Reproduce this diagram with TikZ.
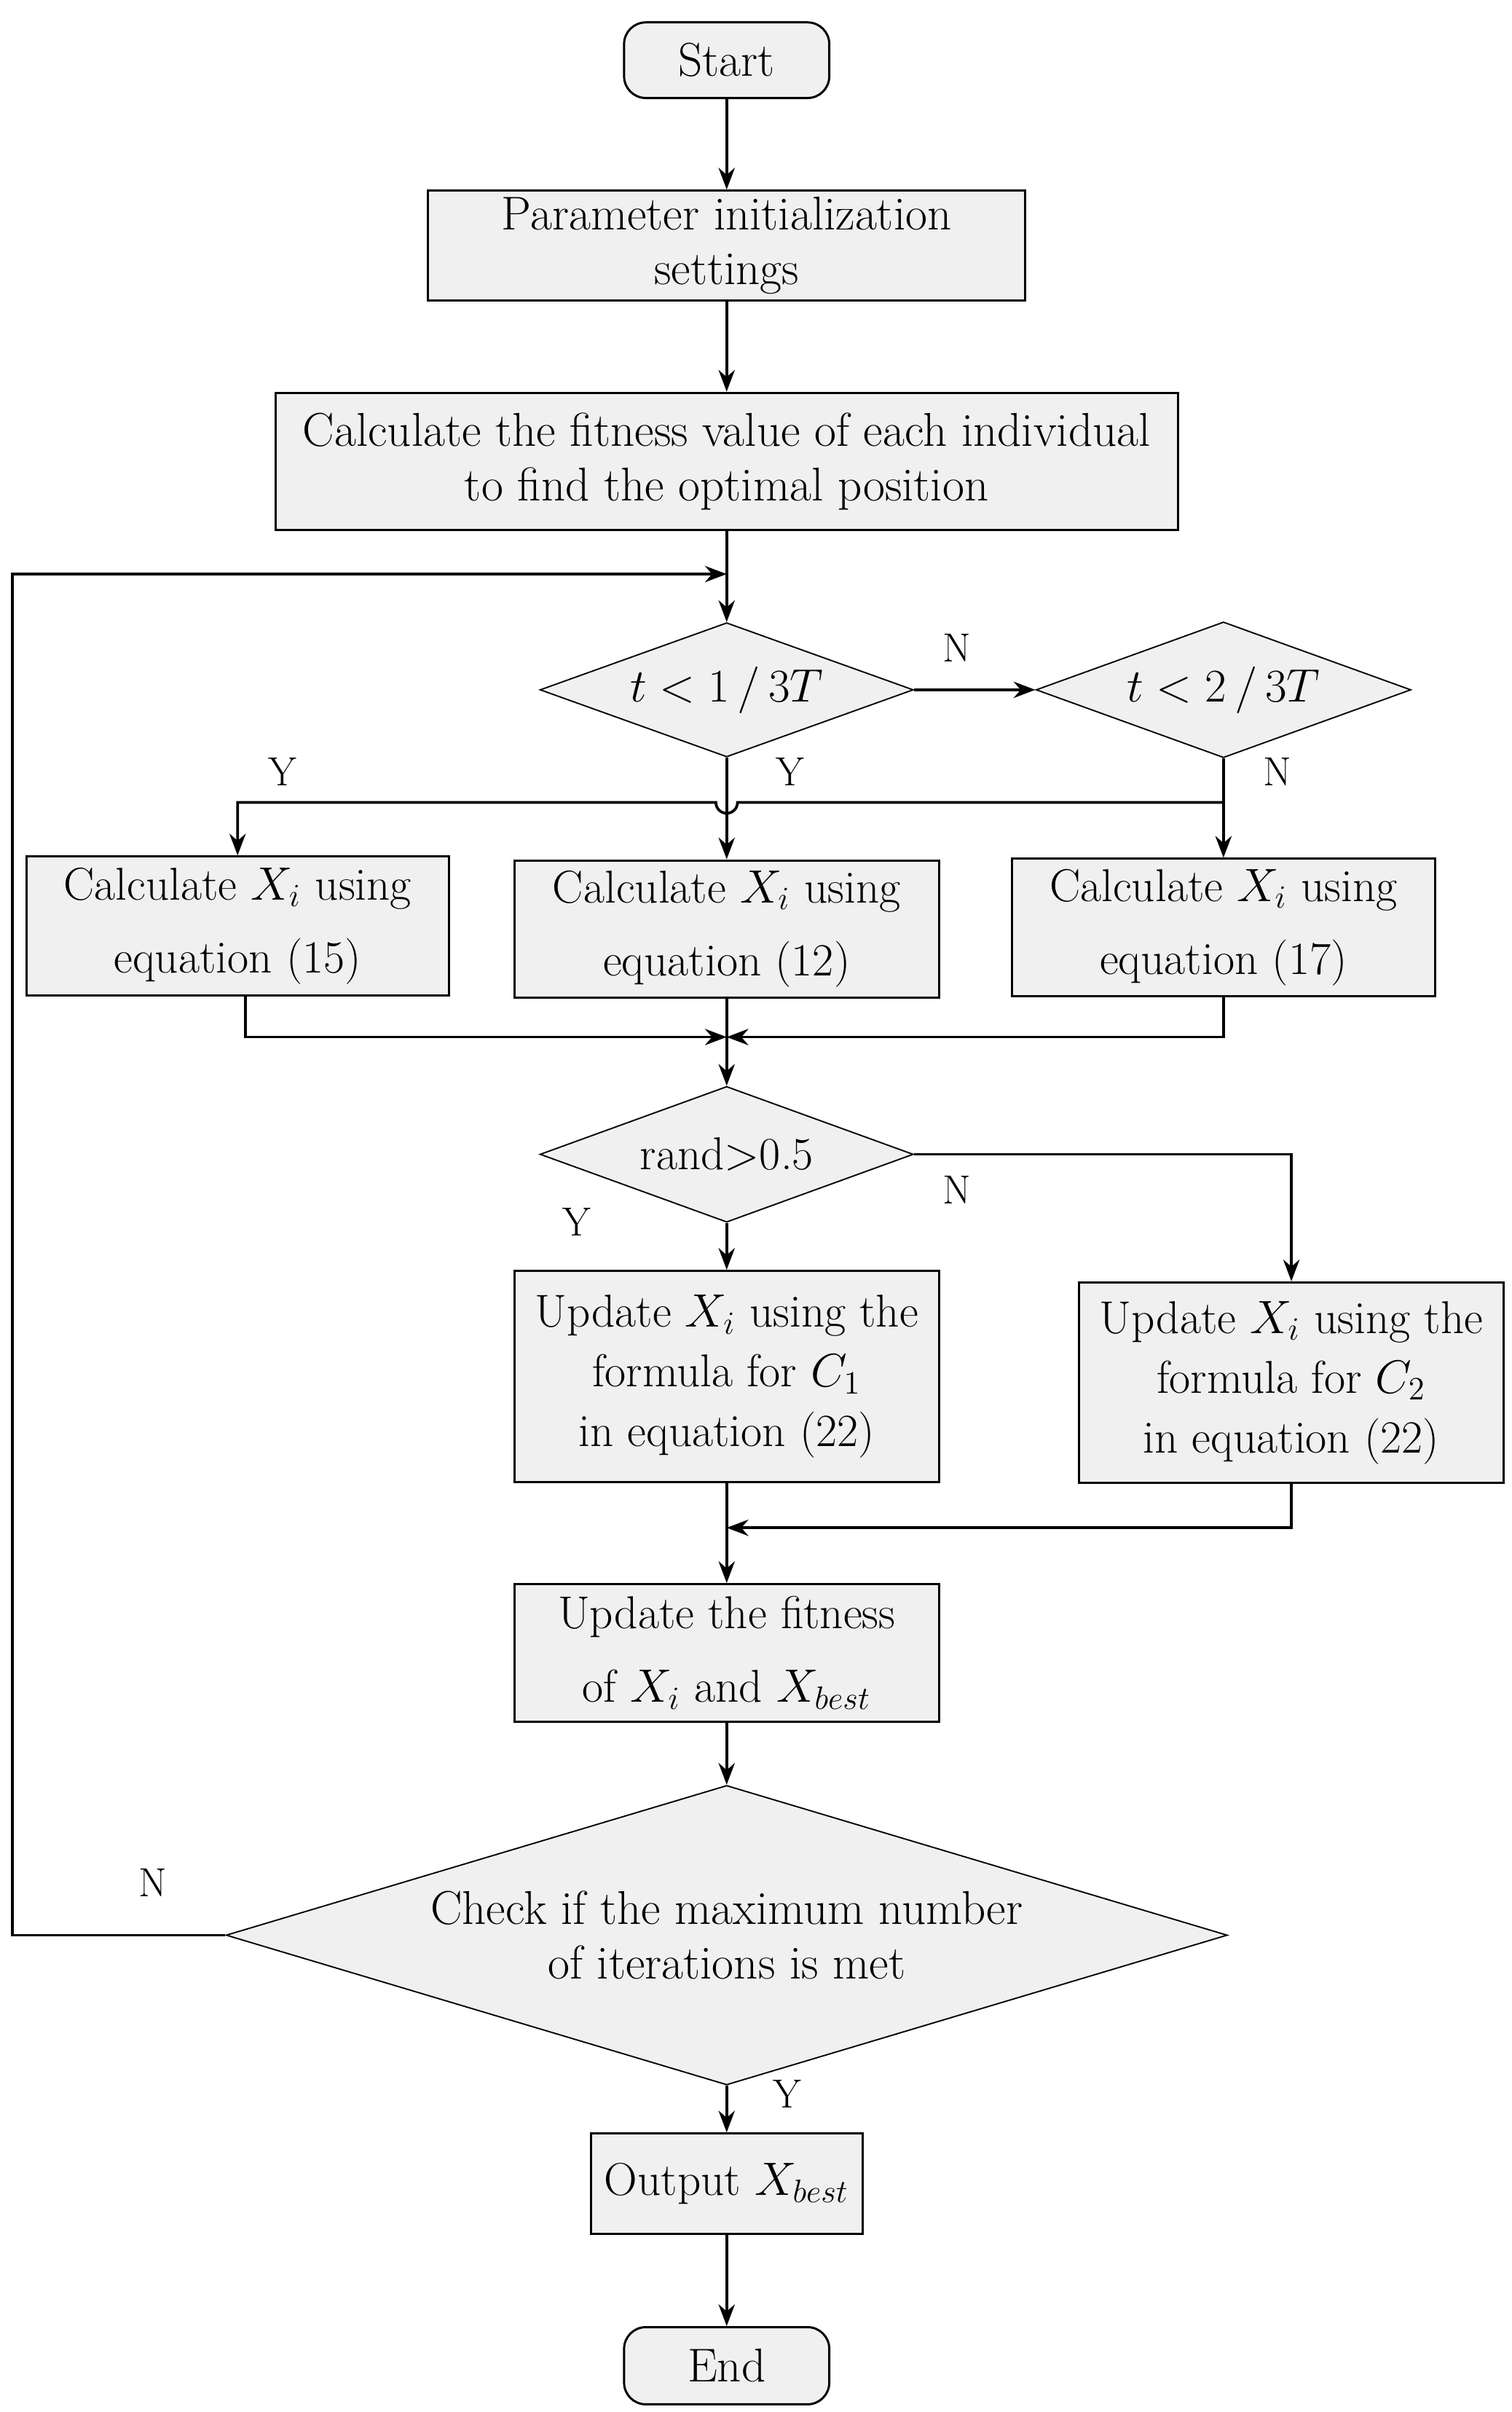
\documentclass[tikz,border=0pt]{standalone}
\usetikzlibrary{shapes.geometric,arrows.meta}
\begin{document}
\begin{tikzpicture}[x=0.02cm,y=-0.02cm,
 box/.style={draw,fill=gray!12,line width=0.8pt,align=center,inner sep=0pt},
 dia/.style={draw,fill=gray!12,line width=0.5pt,diamond,aspect=2.8,inner sep=0pt,align=center},
 ar/.style={-{Stealth[length=8pt,width=6pt]},line width=1pt},
 ln/.style={line width=1pt},
 sm/.style={font=\fontsize{17.5}{20}\selectfont},
 bg/.style={font=\fontsize{17}{27}\selectfont},
 lab/.style={font=\fontsize{15}{16}\selectfont}]
\useasboundingbox (0,0) rectangle (980,1563);
\node[box,rounded corners=8pt,minimum width=133*0.02cm,minimum height=49*0.02cm,sm] (start) at (471,39) {Start};
\node[box,minimum width=387*0.02cm,minimum height=71*0.02cm,sm] (par) at (471,159) {Parameter initialization\\settings};
\node[box,minimum width=585*0.02cm,minimum height=89*0.02cm,sm] (fit) at (471,299) {Calculate the fitness value of each individual\\to find the optimal position};
\coordinate (j0) at (471,372);
\node[dia,minimum width=242*0.02cm,minimum height=87*0.02cm,bg] (d1) at (471,447) {$t<1\,/\,3T$};
\node[dia,minimum width=243*0.02cm,minimum height=88*0.02cm,bg] (d2) at (793,447) {$t<2\,/\,3T$};
\node[box,minimum width=274*0.02cm,minimum height=90*0.02cm,bg] (b15) at (154,600) {Calculate $X_i$ using\\equation (15)};
\node[box,minimum width=275*0.02cm,minimum height=89*0.02cm,bg] (b12) at (471,602) {Calculate $X_i$ using\\equation (12)};
\node[box,minimum width=274*0.02cm,minimum height=89*0.02cm,bg] (b17) at (793,601) {Calculate $X_i$ using\\equation (17)};
\node[dia,minimum width=242*0.02cm,minimum height=88*0.02cm,bg] (d3) at (471,748) {rand>0.5};
\node[box,minimum width=275*0.02cm,minimum height=137*0.02cm,font=\fontsize{17}{22}\selectfont] (u1) at (471,892) {Update $X_i$ using the\\formula for $C_1$\\in equation (22)};
\node[box,minimum width=275*0.02cm,minimum height=130*0.02cm,font=\fontsize{17}{22}\selectfont] (u2) at (837,896) {Update $X_i$ using the\\formula for $C_2$\\in equation (22)};
\node[box,minimum width=275*0.02cm,minimum height=89*0.02cm,bg] (uf) at (471,1071) {Update the fitness\\of $X_i$ and $X_{best}$};
\node[dia,minimum width=649*0.02cm,minimum height=167*0.02cm,sm] (d4) at (471,1254) {Check if the maximum number\\of iterations is met};
\node[box,minimum width=176*0.02cm,minimum height=65*0.02cm,bg] (out) at (471,1415) {Output $X_{best}$};
\node[box,rounded corners=8pt,minimum width=133*0.02cm,minimum height=50*0.02cm,sm] (end) at (471,1533) {End};
\coordinate (c1) at (793,520);
\coordinate (m) at (471,672);
\coordinate (m2) at (471,990);
\draw[ar] (start) -- (par);
\draw[ar] (par) -- (fit);
\draw[ln] (fit) -- (j0);
\draw[ar] (j0) -- (d1);
\draw[ar] (d1.east) -- (d2.west);
\draw[ar] (d1.south) -- (b12.north);
\draw[ln] (d2.south) -- (c1);
\draw[ar] (c1) -- (b17.north);
\draw[ar] (c1) -- (478,520) arc (0:180:7) -- (154,520) -- (b15.north);
\draw[ln] (b12.south) -- (m);
\draw[ar] (b15.south -| 159,0) -- (159,672) -- (m);
\draw[ar] (b17.south) -- (793,672) -- (m);
\draw[ar] (m) -- (d3.north);
\draw[ar] (d3.south) -- (u1.north);
\draw[ar] (d3.east) -- (837,748) -- (u2.north);
\draw[ar] (u2.south) -- (837,990) -- (m2);
\draw[ln] (u1.south) -- (m2);
\draw[ar] (m2) -- (uf.north);
\draw[ar] (uf) -- (d4.north);
\draw[ar] (d4.west) -- (8,1254) -- (8,372) -- (j0);
\draw[ar] (d4.south) -- (out);
\draw[ar] (out) -- (end);
\node[lab] (n1) at (620,420) {N};
\node[lab] (y1) at (183,500) {Y};
\node[lab] (y2) at (512,500) {Y};
\node[lab] (n2) at (828,500) {N};
\node[lab] (y3) at (374,792) {Y};
\node[lab] (n3) at (620,771) {N};
\node[lab] (n4) at (99,1220) {N};
\node[lab] (y4) at (510,1357) {Y};
\end{tikzpicture}
\end{document}
